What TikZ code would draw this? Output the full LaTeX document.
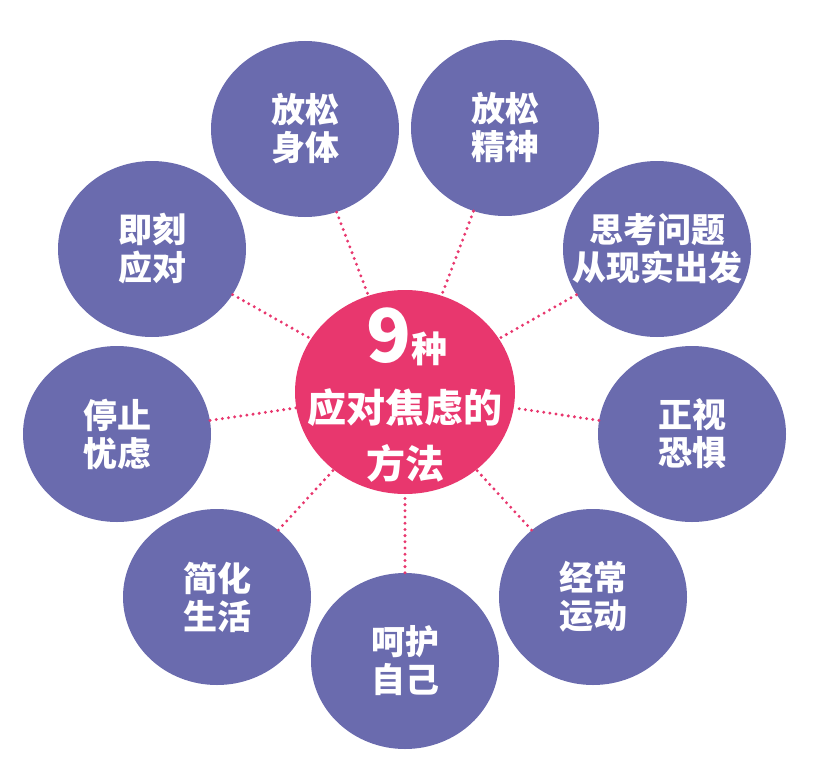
\documentclass[tikz,border=0pt]{standalone}
\usepackage{fontspec}
\setmainfont{Noto Sans CJK SC}
\usetikzlibrary{shapes.geometric}
\definecolor{bubble}{HTML}{6A6BAE}
\definecolor{hubpink}{HTML}{E8376E}

\begin{document}
\begin{tikzpicture}[x=1pt, y=-1pt, font=\bfseries,
    bubble/.style={ellipse, fill=bubble, minimum width=188pt, minimum height=176pt, inner sep=0pt},
    word/.style={text=white, align=center, font=\bfseries\fontsize{34}{38}\selectfont},
    hubword/.style={text=white, font=\bfseries\fontsize{39}{39}\selectfont},
    dots/.style={hubpink, line width=3.3pt, dash pattern=on 0pt off 6.2pt, line cap=round}]
    % pixel grid of the 816 x 760 layout, y axis pointing down; the bubbles are a little flattened
    \useasboundingbox (0,0) rectangle (816,760);
    \node[ellipse, fill=hubpink, minimum width=220pt, minimum height=204pt, inner sep=0pt] (hub) at (405,392) {};
    \node[bubble] (body) at (305,129) {};
    \node[bubble] (mind) at (505,128) {};
    \node[bubble] (real) at (657,249) {};
    \node[bubble] (fear) at (692,434) {};
    \node[bubble] (sport) at (593,597) {};
    \node[bubble] (self) at (405,661) {};
    \node[bubble] (simple) at (217,597) {};
    \node[bubble] (worry) at (117,434) {};
    \node[bubble] (now) at (152,249) {};
    \foreach \n in {body,mind,real,fear,sport,self,simple,worry,now}
      \draw[dots] (\n) -- (hub);
    \node[word] (tbody) at (body) {放松\\身体};
    \node[word] (tmind) at (mind) {放松\\精神};
    \node[word] (treal) at (real) {思考问题\\从现实出发};
    \node[word] (tfear) at (fear) {正视\\恐惧};
    \node[word] (tsport) at (sport) {经常\\运动};
    \node[word] (tself) at (self) {呵护\\自己};
    \node[word] (tsimple) at (simple) {简化\\生活};
    \node[word] (tworry) at (worry) {停止\\忧虑};
    \node[word] (tnow) at (now) {即刻\\应对};
    \node[text=white, anchor=base, font=\bfseries\fontsize{74}{74}\selectfont] (nine) at (407,362) {9{\fontsize{36}{36}\selectfont 种}};
    \node[hubword] (cope) at (405,408) {应对焦虑的};
    \node[hubword] (way) at (405,463) {方法};
\end{tikzpicture}
\end{document}
